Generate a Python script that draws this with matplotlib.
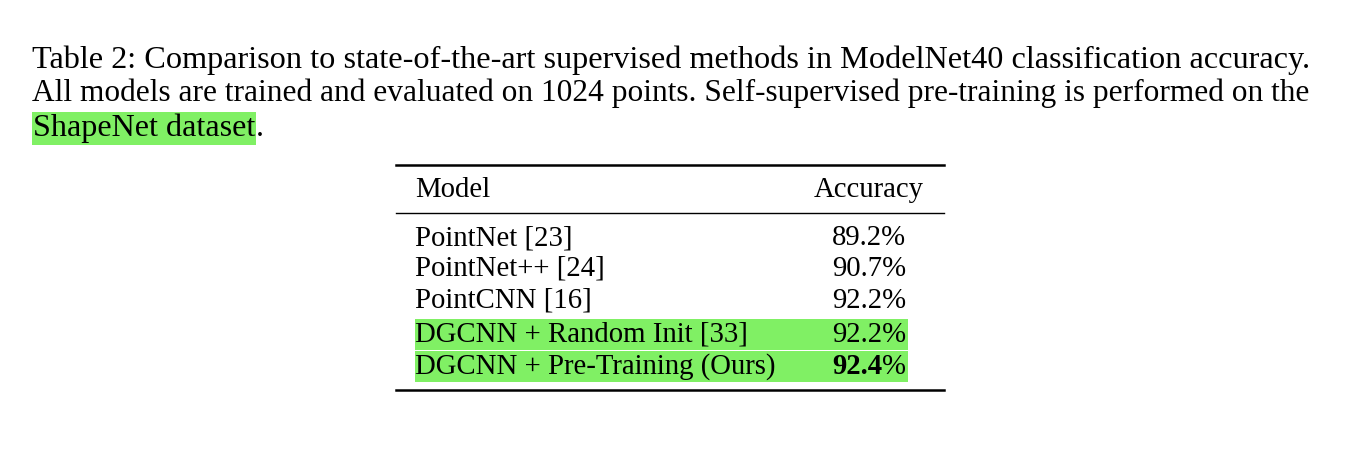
import matplotlib.pyplot as plt
from matplotlib.patches import Rectangle

caption = [
    "Table 2: Comparison to state-of-the-art supervised methods in ModelNet40 classification accuracy.",
    "All models are trained and evaluated on 1024 points. Self-supervised pre-training is performed on the",
]
caption_hl = "ShapeNet dataset"
models = ["PointNet [23]", "PointNet++ [24]", "PointCNN [16]",
          "DGCNN + Random Init [33]", "DGCNN + Pre-Training (Ours)"]
accuracy = [89.2, 90.7, 92.2, 92.2, 92.4]
highlight_rows = [3, 4]
GREEN = "#80f064"

plt.rcParams['font.family'] = ['Liberation Serif', 'DejaVu Serif']
fig = plt.figure(figsize=(13.67, 4.58), dpi=100)
ax = fig.add_axes([0, 0, 1, 1])
ax.set_xlim(0, 1367)
ax.set_ylim(458, 0)
ax.axis('off')
fs_cap = 20.0
fs = 20.7

fig.canvas.draw()
r = fig.canvas.get_renderer()

# caption, stretched to the reference line width
ys = [60, 93]
for y, line in zip(ys, caption):
    t = ax.text(32, y, line, fontsize=fs_cap, va='center', ha='left')
    w = t.get_window_extent(r).width
    target = 1310 - 32 if y == 60 else 1307 - 32
    t.set_fontsize(fs_cap * target / w)
ax.add_patch(Rectangle((32, 112), 224, 33, color=GREEN, lw=0, zorder=0))
t = ax.text(33, 128, caption_hl, fontsize=fs_cap, va='center', ha='left')
w = t.get_window_extent(r).width
t.set_fontsize(fs_cap * 222 / w)
ax.text(256, 128, ".", fontsize=fs_cap * 222 / w, va='center', ha='left')

# table rules
ax.plot([396, 944], [165, 165], color='black', lw=1.8)
ax.plot([396, 944], [213, 213], color='black', lw=1.0)
ax.plot([396, 944], [390, 390], color='black', lw=1.8)
ax.text(415, 190, "Model", fontsize=fs, va='center', ha='left')
ax.text(924, 190, "Accuracy", fontsize=fs, va='center', ha='right')

row_y = [238, 269, 301, 335, 367]
best = max(accuracy)
for i, (m, a) in enumerate(zip(models, accuracy)):
    y = row_y[i]
    if i in highlight_rows:
        ax.add_patch(Rectangle((415, y - 16), 493, 31, color=GREEN, lw=0, zorder=0))
    ax.text(415, y, m, fontsize=fs, va='center', ha='left')
    if a == best and i == len(accuracy) - 1:
        pct = ax.text(906, y, "%", fontsize=fs, va='center', ha='right')
        w = pct.get_window_extent(r).width
        ax.text(906 - w, y, f"{a:.1f}", fontsize=fs, va='center', ha='right',
                fontweight='bold')
    else:
        ax.text(906, y, f"{a:.1f}%", fontsize=fs, va='center', ha='right')

fig.savefig("out.png", dpi=100)
